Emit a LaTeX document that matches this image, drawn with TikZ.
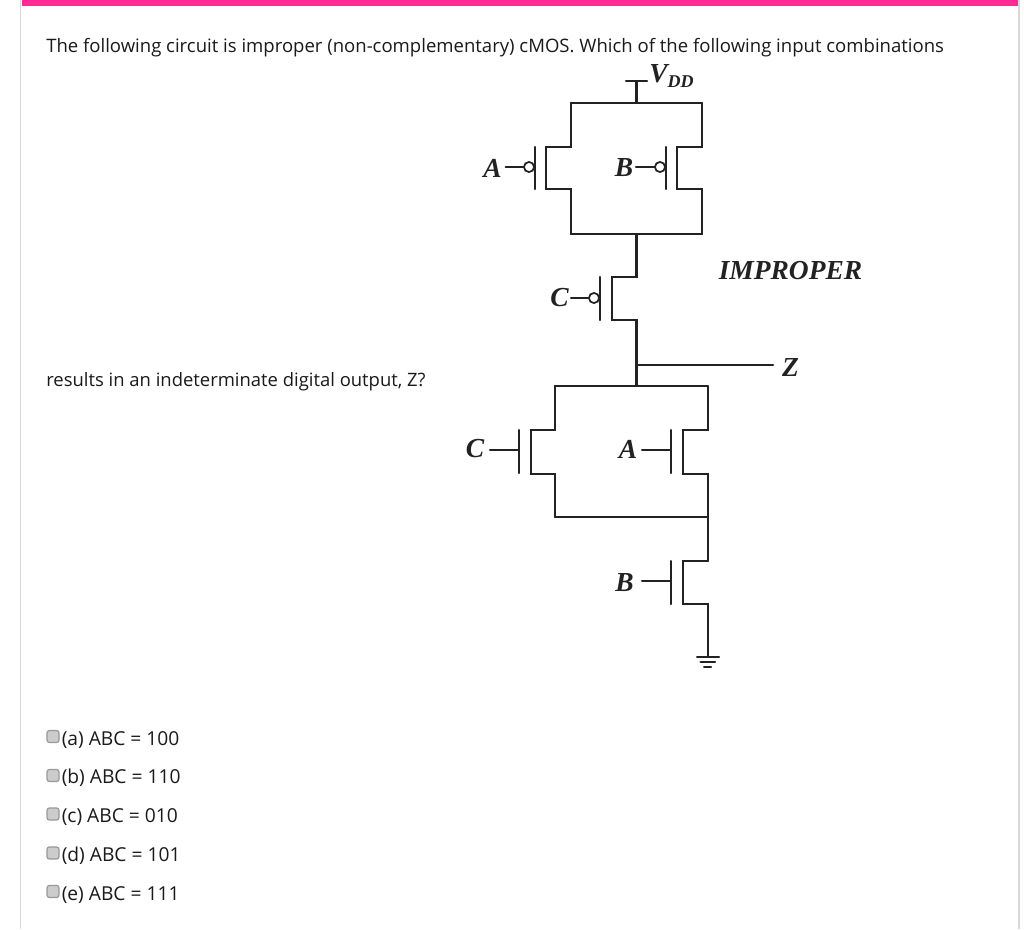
\documentclass[tikz,border=0pt]{standalone}
\usepackage{fontspec}
\setmainfont{Open Sans}
\newfontfamily\mathlab{Liberation Serif}
\definecolor{pagepink}{HTML}{FF2A93}
\definecolor{frameg}{HTML}{D8D8D8}
\definecolor{txt}{HTML}{1A1A1A}
\definecolor{wirec}{HTML}{222222}
\tikzset{
  wire/.style={draw=wirec,line width=1.55pt,line cap=round,line join=miter},
  para/.style={font=\fontsize{13.9}{16}\selectfont,text=txt,anchor=base west,inner sep=0pt},
  optlab/.style={font=\fontsize{14.4}{16}\selectfont,text=txt,anchor=base west,inner sep=0pt},
  lab/.style={font=\mathlab\bfseries\itshape\fontsize{20.6}{22}\selectfont,text=wirec,inner sep=0pt},
  bubble/.style={circle,draw=wirec,line width=1.3pt,fill=white,minimum size=7.6pt,inner sep=0pt},
  chk/.style={draw=black!40,fill=black!20,line width=0.9pt,rounded corners=1.8pt,minimum size=9pt,inner sep=0pt}
}
\begin{document}
\begin{tikzpicture}[x=0.75pt,y=-0.75pt]
\useasboundingbox (0,0) rectangle (1024,929);
\fill[white] (0,0) rectangle (1024,929);
\draw[frameg,line width=1pt] (20.5,0) -- (20.5,929);
\draw[frameg,line width=1pt] (1019,0) -- (1019,929);
\fill[pagepink] (22,0) rectangle (1018,6);
% text
\node[para] (t1) at (46,52) {The following circuit is improper (non-complementary) cMOS. Which of the following input combinations};
\node[para,font=\fontsize{13.83}{16}\selectfont] (t2) at (46,386) {results in an indeterminate digital output, Z?};
% supply
\coordinate (vl) at (626,81); \coordinate (vr) at (647,81); \coordinate (vs) at (636.5,81);
\draw[wire] (vl) -- (vr);
\coordinate (tp) at (636.5,103);
\draw[wire] (vs) -- (tp);
\node[lab,anchor=base west] (vdd) at (649,82.5) {V\raisebox{-4pt}{\fontsize{13.5}{15}\selectfont DD}};
% upper parallel PMOS
\draw[wire] (571,103) -- (702,103);
\draw[wire] (571,103) -- (571,147) -- (546,147) -- (546,189) -- (571,189) -- (571,234);
\draw[wire] (702,103) -- (702,147) -- (677,147) -- (677,189) -- (702,189) -- (702,234);
\draw[wire] (571,234) -- (702,234);
\draw[wire] (535,147) -- (535,189);
\draw[wire] (665.7,147) -- (665.7,189);
\node[bubble] (ba) at (529,167) {};
\node[bubble] (bb) at (660,167) {};
\node[lab] (la) at (492.5,168) {A};
\node[lab] (lb) at (624,168) {B};
\draw[wire] (505.7,167) -- (ba);
\draw[wire] (636,167) -- (bb);
% series PMOS C
\draw[wire] (636.5,234) -- (636.5,277) -- (612,277) -- (612,320) -- (636.5,320) -- (636.5,386);
\draw[wire] (600,277) -- (600,320);
\node[bubble] (bc) at (594,298) {};
\node[lab] (lc) at (559.5,298) {C};
\draw[wire] (571,298) -- (bc);
% output
\coordinate (zj) at (636.5,365);
\node[lab] (lz) at (790.5,367) {Z};
\draw[wire] (zj) -- (773,365);
\node[lab] (imp) at (790.5,270.5) {IMPROPER};
% lower parallel NMOS
\draw[wire] (555,386) -- (707.7,386);
\draw[wire] (555,386) -- (555,430) -- (530.7,430) -- (530.7,474) -- (555,474) -- (555,517);
\draw[wire] (707.7,386) -- (707.7,430) -- (683,430) -- (683,474) -- (707.7,474) -- (707.7,561);
\draw[wire] (555,517) -- (707.7,517);
\draw[wire] (519,430) -- (519,473);
\draw[wire] (671,430) -- (671,473);
\node[lab] (lc2) at (475,449) {C};
\node[lab] (la2) at (628,449) {A};
\draw[wire] (490,450) -- (519,450);
\draw[wire] (642,450) -- (671,450);
% series NMOS B
\draw[wire] (707.7,561) -- (683,561) -- (683,604) -- (707.7,604) -- (707.7,657);
\draw[wire] (671,561) -- (671,604);
\node[lab] (lb2) at (624.5,583) {B};
\draw[wire] (642,581) -- (671,581);
% ground
\draw[wire] (697,657) -- (719,657);
\draw[wire] (700.5,662) -- (715,662);
\draw[wire] (704,667) -- (711,667);
% options
\foreach \by/\yy/\tx/\nm in {736.5/745/{(a) ABC = 100}/a,775.5/783.5/{(b) ABC = 110}/b,814/822.5/{(c) ABC = 010}/c,853/861/{(d) ABC = 101}/d,891.5/900/{(e) ABC = 111}/e}{
  \node[chk] (box\nm) at (53,\by) {};
  \node[optlab] (opt\nm) at (61.5,\yy) {\tx};
}
\end{tikzpicture}
\end{document}
